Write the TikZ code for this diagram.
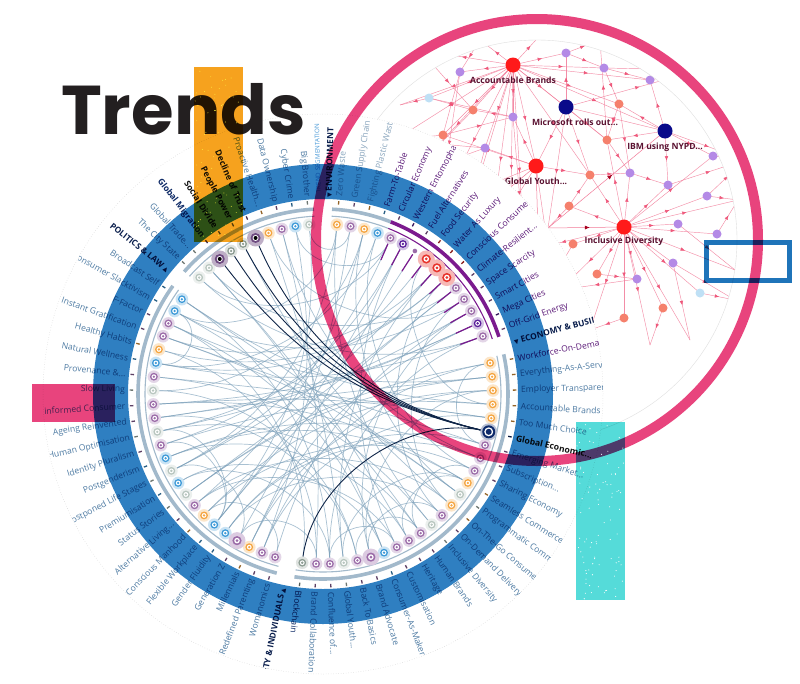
\documentclass[tikz,border=0pt]{standalone}
\usepackage{fontspec}
\setmainfont{Open Sans}
\newfontfamily\symf{DejaVu Sans}
\newfontfamily\titlef{Poppins}
\usetikzlibrary{arrows.meta,decorations.markings}
\definecolor{ringblue}{HTML}{2F7FC1}
\definecolor{pinkc}{HTML}{E8447D}
\definecolor{orangec}{HTML}{F6A21E}
\definecolor{cyanc}{HTML}{55DBD9}
\definecolor{rectblue}{HTML}{1F74B9}
\definecolor{labn}{HTML}{4E7BA3}
\definecolor{labg}{HTML}{8AA6BE}
\definecolor{labp}{HTML}{5B1A78}
\definecolor{labk}{HTML}{141414}
\definecolor{labv}{HTML}{0E2A66}
\definecolor{catc}{HTML}{0B1F4D}
\definecolor{segc}{HTML}{4A9AD8}
\definecolor{chordc}{HTML}{7CA0BA}
\definecolor{darkch}{HTML}{0F2548}
\definecolor{arcg}{HTML}{A2B9CB}
\definecolor{envp}{HTML}{7B1A8E}
\definecolor{dp}{HTML}{9B6BA8}
\definecolor{do}{HTML}{F5A540}
\definecolor{dl}{HTML}{3D9AD8}
\definecolor{dg}{HTML}{B8C6BF}
\definecolor{dr}{HTML}{E8342C}
\definecolor{dv}{HTML}{5A1F9A}
\definecolor{dN}{HTML}{0D2A6B}
\definecolor{dD}{HTML}{6E4A80}
\definecolor{dG}{HTML}{8C9C92}
\definecolor{netl}{HTML}{F27A98}
\definecolor{neta}{HTML}{EE4D72}
\definecolor{netd}{HTML}{A8001E}
\definecolor{netr}{HTML}{FF1A1A}
\definecolor{netn}{HTML}{0A0A8A}
\definecolor{netp}{HTML}{B48AE6}
\definecolor{nets}{HTML}{F5806C}
\definecolor{netb}{HTML}{BFE0F5}
\definecolor{netlab}{HTML}{5A1231}
\definecolor{titlec}{HTML}{231F20}
\newcommand\tdn{{\symf\fontsize{6}{6}\selectfont ▼}}
\newcommand\tup{{\symf\fontsize{6}{6}\selectfont ▲}}
\newcommand\el{.\kern0pt.\kern0pt.}
\tikzset{
  lab/.style={font=\fontsize{8.6}{9}\selectfont, inner sep=0pt},
  lbn/.style={lab, text=labn},
  lbg/.style={lab, text=labg},
  lbp/.style={lab, text=labp},
  lbd/.style={lab, text=labv},
  lbk/.style={lab, text=labk, font=\fontsize{8.6}{9}\selectfont\bfseries},
  lbv/.style={lab, text=labv, font=\fontsize{8.6}{9}\selectfont\bfseries},
  lbc/.style={lab, text=catc, font=\fontsize{8.4}{9}\selectfont\bfseries},
  chord/.style={draw=chordc, line width=0.7pt, opacity=0.65},
  darkchord/.style={draw=darkch, line width=0.9pt},
  arcthick/.style={draw=arcg, line width=3.6pt},
  arcthin/.style={draw=arcg, line width=1.1pt},
  netedge/.style={draw=netl, line width=0.45pt, opacity=0.85, postaction={decorate},
    decoration={markings, mark=at position 0.55 with {\arrow[neta]{Latex[length=4.5pt,width=3.6pt]}}}},
  netdark/.style={draw=netl, line width=0.5pt, postaction={decorate},
    decoration={markings, mark=at position 0.55 with {\arrow[netd]{Latex[length=5pt,width=4pt]}}}},
  bignet/.style={circle, inner sep=0pt, minimum size=15pt},
  smallnet/.style={circle, inner sep=0pt, minimum size=9pt},
  netlabel/.style={font=\fontsize{8.6}{9}\selectfont\bfseries, text=netlab, inner sep=0pt}
}
\begin{document}
\begin{tikzpicture}[x=1pt,y=-1pt]
\useasboundingbox (0,0) rectangle (800,683);
\fill[white] (0,0) rectangle (800,683);

% ---------------- network ----------------
\begin{scope}
\clip (537,240) circle (200);
\coordinate (AB) at (513,65);
\coordinate (MS) at (566,107);
\coordinate (IBM) at (665,131);
\coordinate (GY) at (536,166);
\coordinate (ID) at (624,227);
\foreach \n/\x/\y in {P1/566/53,P2/604/68,P3/650/80,P4/460/72,P5/513/117,P6/485/148,P7/630/173,P8/713/156,P9/668/185,P10/707/196,P11/678/224,P12/717/234,P13/673/263,P14/637/279,L1/429/98,L2/700/293,S1/473/110,S2/443/135,S3/619/104,S4/607/140,S5/590/175,S6/569/206,S7/573/244,S8/597/274,S9/663/308,S10/624/318,o1/395/140,o2/410/175,o3/440/205,o4/465/225,o5/490/240,o6/510/255,o7/525/260,o8/400/105,o9/420/50,o10/545/30,o11/480/40,o12/548/228,o13/560/290,o14/590/330,o15/650/345,o16/735/270,o17/738/200,o18/700/70,o19/745/160,o20/600/40,o21/735/300,o22/560/330,o23/540/300,o24/690/340}
  {\coordinate (\n) at (\x,\y);}
\foreach \u/\v in {AB/P4,AB/S1,AB/S2,AB/L1,AB/P5,AB/P6,AB/GY,AB/P1,AB/P2,AB/P3,AB/IBM,AB/S3,AB/MS,AB/o1,AB/o2,AB/o3,AB/o4,AB/o5,AB/o6,AB/o7,AB/o8,AB/o9,AB/o10,AB/o11,MS/P1,MS/GY,MS/S4,MS/o18,IBM/P3,IBM/S3,IBM/P8,IBM/MS,IBM/o19,GY/P6,GY/S2,GY/S5,GY/o5,GY/o22,ID/P7,ID/P9,ID/P10,ID/P11,ID/P12,ID/P13,ID/P14,ID/L2,ID/S9,ID/S10,ID/S8,ID/S7,ID/S6,ID/S5,ID/S4,ID/o13,ID/o14,ID/o15,ID/o16,ID/o17,ID/P8,ID/o24,ID/o6,P4/S2,S1/L1,P2/P3,P3/o18,S3/P7,P11/o16,P13/o21,S4/o20,P5/S1,L1/o8,S2/o1,P6/o2,P9/o19,P10/o17,o1/P6,S2/P5,L1/P5,P4/o3,S1/o2,P5/o7,P6/o4,MS/o12,MS/S5,GY/P5,GY/o3,P1/P2,P1/o20,P2/S3,P2/o18,S3/S4,S4/P7,S5/P7,P7/P9,S6/o12,S7/o23,S8/P14,S9/o15,S10/o14,P14/o13,P12/o17,P10/o19,P8/o19,L2/o21,P13/o24,IBM/S4,IBM/P9,AB/S4,AB/S5,S6/S5,o9/S1,o11/P4}
  {\draw[netedge] (\u) -- (\v);}
\foreach \u/\v in {o12/IBM,o4/GY,o23/GY,o12/ID}
  {\draw[netdark] (\u) -- (\v);}
\foreach \n in {P1,P2,P3,P4,P5,P6,P7,P8,P9,P10,P11,P12,P13,P14}
  {\node[smallnet, fill=netp] (n\n) at (\n) {};}
\foreach \n in {S1,S2,S3,S4,S5,S6,S7,S8,S9,S10}
  {\node[smallnet, fill=nets] (n\n) at (\n) {};}
\foreach \n in {L1,L2}
  {\node[smallnet, fill=netb] (n\n) at (\n) {};}
\node[bignet, fill=netr] (nAB) at (AB) {};
\node[bignet, fill=netr] (nGY) at (GY) {};
\node[bignet, fill=netr] (nID) at (ID) {};
\node[bignet, fill=netn] (nMS) at (MS) {};
\node[bignet, fill=netn] (nIBM) at (IBM) {};
\node[netlabel] (tAB) at (513,80) {Accountable Brands};
\node[netlabel] (tMS) at (575,122) {Microsoft rolls out\el};
\node[netlabel] (tIBM) at (665,147) {IBM using NYPD\el};
\node[netlabel] (tGY) at (536,181) {Global Youth\el};
\node[netlabel] (tID) at (624,241) {Inclusive Diversity};
\end{scope}
\draw[gray!25, line width=0.4pt] (537,240) circle (200);

% ---------------- chord diagram ----------------
\fill[white] (323,394) circle (280);
\begin{scope}[shift={(323,394)}, yscale=-1]
\draw[gray!35, line width=0.5pt, dotted] (0,0) circle (280);

% labels
\begin{scope}
\clip (0,0) circle (280);
\foreach \i/\tx/\s in {1/Zero Waste/lbg,2/Green Supply Chain/lbg,3/Fighting Plastic Waste/lbg,4/Farm-To-Table/lbp,5/Circular Economy/lbp,6/Western Entomophagy/lbp,7/Fuel Alternatives/lbp,8/Food Security/lbp,9/Water As Luxury/lbp,10/Conscious Consumer/lbp,11/Climate-Resilient\el/lbp,12/Space Scarcity/lbp,13/Smart Cities/lbp,14/Mega Cities/lbp,15/Off-Grid Energy/lbp,16/\tdn\ ECONOMY \& BUSINESS/lbc,17/Workforce-On-Demand/lbp,18/Everything-As-A-Service/lbn,19/Employer Transparency/lbn,20/Accountable Brands/lbn,21/Too Much Choice/lbn,22/Global Economic\el/lbk,23/Emerging Market\el/lbn,24/Subscription\el/lbn,25/Sharing Economy/lbn,26/Seamless Commerce/lbn,27/Programmatic Commerce/lbn,28/On-The-Go Consumer/lbn,29/On-Demand Delivery/lbn,30/Inclusive Diversity/lbn,31/Human Brands/lbn,32/Heritage/lbn,33/Customisation/lbn,34/Consumer-As-Maker/lbn,35/Brand Advocate/lbn,36/Back To Basics/lbn,37/Global Youth\el/lbn,38/Confluence of\el/lbn,39/Brand Collaboration/lbn,40/Blockchain/lbd}
{
  \pgfmathsetmacro\ang{90-\i*4.675325}
  \node[\s, anchor=west, rotate=\ang] (lab\i) at (\ang:198) {\tx};
}
\foreach \i/\tx/\s in {41/SOCIETY \& INDIVIDUALS \tup/lbc,42/Womanomics/lbn,43/Redefined Parenting/lbn,44/Millennials/lbn,45/Generation Z/lbn,46/Gender Fluidity/lbn,47/Flexible Workplace/lbn,48/Conscious Manhood/lbn,49/Alternative Living\el/lbn,50/Status Stories/lbn,51/Premiumisation/lbn,52/Postponed Life Stages/lbn,53/Postgenderism/lbn,54/Identity Pluralism/lbn,55/Human Optimisation/lbn,56/Ageing Reinvented/lbn,57/Misinformed Consumer/lbn,58/Slow Living/lbn,59/Provenance \&\el/lbn,60/Natural Wellness/lbn,61/Healthy Habits/lbn,62/Instant Gratification/lbn,63/F-Factor/lbn,64/Consumer Slacktivism/lbn,65/Broadcast Self/lbn,66/POLITICS \& LAW \tup/lbc,67/The City State/lbn,68/Global Trade\el/lbn,69/Global Migration/lbv,70/Social Divide/lbk,71/People Power/lbk,72/Decline of Trust/lbk,73/Proactive Health\el/lbn,74/Data Ownership/lbn,75/Cyber Crime/lbn,76/Big Brother/lbn}
{
  \pgfmathsetmacro\ang{90-\i*4.675325}
  \pgfmathsetmacro\rot{\ang+180}
  \node[\s, anchor=east, rotate=\rot] (lab\i) at (\ang:198) {\tx};
}
\node[lbc, anchor=west, rotate=88.3] (env) at (88.3:196) {\tdn\ ENVIRONMENT};
\node[lab, text=segc, font=\fontsize{6.3}{7}\selectfont, anchor=west, rotate=91.3] (seg) at (91.3:201) {TREND SEGMENTATION};
\end{scope}
\begin{scope}[blend mode=multiply]
\fill[ringblue, even odd rule] (0,0) circle (230) (0,0) circle (195);
\end{scope}

% segment arcs
\draw[arcthick] (87.195:185) arc[start angle=87.195, end angle=68.5, radius=185];
\draw[arcthin] (87.195:178) arc[start angle=87.195, end angle=68.5, radius=178];
\draw[envp, line width=3.6pt] (68.5:185) arc[start angle=68.5, end angle=18.0, radius=185];
\draw[envp, line width=1.1pt] (68.5:178) arc[start angle=68.5, end angle=18.0, radius=178];
\foreach \s/\e in {12.39/-98.88,-104.49/-215.77,-221.38/-267.19}
{
  \draw[arcthick] (\s:185) arc[start angle=\s, end angle=\e, radius=185];
  \draw[arcthin] (\s:178) arc[start angle=\s, end angle=\e, radius=178];
}

% light chords
\foreach \p/\q in {1/30,1/52,2/45,3/58,3/27,4/25,4/60,5/52,6/33,6/47,7/44,8/20,8/55,9/37,9/62,10/61,10/29,11/47,11/50,12/28,12/64,13/55,13/35,14/44,14/57,15/60,15/38,17/50,17/43,18/63,18/56,19/35,19/48,20/54,20/65,21/43,21/59,23/62,23/46,24/74,24/53,25/48,26/57,26/32,27/65,28/71,28/49,29/46,30/59,31/64,31/36,32/53,33/49,34/68,34/51,36/56,37/73,37/26,38/51,39/61,39/45,40/63,42/13,42/48,43/75,44/19,46/24,47/54,49/3,50/18,52/9,53/26,54/6,55/31,56/14,57/21,58/36,60/10,62/27,63/34,64/1,65/38,67/15,68/32,73/12,74/39,75/5,76/47,76/2,67/5,68/11,45/52,47/55,29/35,25/31,60/64,17/23,33/38}
{
  \pgfmathsetmacro\ta{90-\p*4.675325}
  \pgfmathsetmacro\tb{90-\q*4.675325}
  \pgfmathsetmacro\dd{abs(\ta-\tb)}
  \pgfmathsetmacro\dd{\dd>180 ? 360-\dd : \dd}
  \pgfmathsetmacro\rc{150-0.75*\dd}
  \draw[chord] (\ta:165) .. controls (\ta:\rc) and (\tb:\rc) .. (\tb:165);
}
% dark chords
\foreach \q in {69,70,71,72,40}
{
  \pgfmathsetmacro\ta{90-22*4.675325}
  \pgfmathsetmacro\tb{90-\q*4.675325}
  \pgfmathsetmacro\dd{abs(\ta-\tb)}
  \pgfmathsetmacro\dd{\dd>180 ? 360-\dd : \dd}
  \pgfmathsetmacro\rc{150-0.75*\dd}
  \draw[darkchord] (\ta:165) .. controls (\ta:\rc) and (\tb:\rc) .. (\tb:165);
}
% purple spokes
\foreach \i in {5,6,7,8,9,10,11,12,13,14,15}
{
  \pgfmathsetmacro\ang{90-\i*4.675325}
  \draw[envp, line width=1.2pt] (\ang:166) -- (\ang:146);
}

% ticks and dots
\foreach \i/\c in {1/do,2/dp,3/do,4/dl,5/dp,6/dv,7/dp,8/dr,9/dr,10/dr,11/dp,12/dp,13/dp,14/dv,15/dp,17/do,18/do,19/do,20/do,21/do,22/dN,23/dp,24/dp,25/dp,26/do,27/dg,28/do,29/dp,30/dg,31/dp,32/dp,33/dp,34/dl,35/dp,36/dp,37/dg,38/dp,39/dp,40/dG,42/dp,43/dp,44/do,45/dp,46/dl,47/dl,48/do,49/dp,50/dg,51/dl,52/dg,53/dl,54/dp,55/dg,56/dp,57/dp,58/dg,59/dp,60/dl,61/do,62/dp,63/dp,64/dl,65/dl,67/dg,68/dg,69/dD,70/dG,71/dG,72/dD,73/do,74/dp,75/dl,76/dg}
{
  \pgfmathsetmacro\ang{90-\i*4.675325}
  \draw[\c!60!black, line width=1.3pt] (\ang:190) -- (\ang:193.5);
}
\foreach \i/\c in {1/do,2/dp,3/do,4/dl,5/dp,6/dv,11/dp,12/dp,13/dp,14/dv,15/dp,17/do,18/do,19/do,20/do,21/do,23/dp,24/dp,25/dp,26/do,27/dg,28/do,29/dp,30/dg,31/dp,32/dp,33/dp,34/dl,36/dp,37/dg,38/dp,39/dp,40/dG,42/dp,43/dp,44/do,46/dl,47/dl,48/do,49/dp,50/dg,51/dl,52/dg,53/dl,54/dp,55/dg,56/dp,57/dp,58/dg,59/dp,60/dl,61/do,62/dp,63/dp,64/dl,65/dl,67/dg,68/dg,70/dG,71/dG,73/do,74/dp,75/dl,76/dg}
{
  \pgfmathsetmacro\ang{90-\i*4.675325}
  \fill[\c!28] (\ang:170) circle (6.3);
  \fill[\c] (\ang:170) circle (3.9);
  \fill[white] (\ang:170) circle (2.4);
  \fill[\c] (\ang:170) circle (1.3);
}
% tiny dot
\fill[dp] ({90-7*4.675325}:170) circle (2.3);
% big dots
\foreach \i/\c in {8/dr,9/dr,10/dr,35/dp,45/dp}
{
  \pgfmathsetmacro\ang{90-\i*4.675325}
  \fill[\c!35] (\ang:170) circle (8.5);
  \fill[\c] (\ang:170) circle (4.6);
  \fill[white] (\ang:170) circle (2.8);
  \fill[\c] (\ang:170) circle (1.5);
}
\foreach \i in {69,72}
{
  \pgfmathsetmacro\ang{90-\i*4.675325}
  \fill[dD!45] (\ang:170) circle (8.5);
  \fill[dD] (\ang:170) circle (5);
  \fill[white] (\ang:170) circle (3);
  \fill[black] (\ang:170) circle (2);
}
\pgfmathsetmacro\ang{90-22*4.675325}
\fill[dN!30] (\ang:170) circle (8.5);
\fill[dN] (\ang:170) circle (6.5);
\fill[white] (\ang:170) circle (4.5);
\fill[dN] (\ang:170) circle (3);
\end{scope}

% ---------------- title ----------------
\node[anchor=base west, inner sep=0pt, text=titlec, font=\titlef\bfseries\fontsize{69}{69}\selectfont] (title) at (61,134) {Trends};

% ---------------- overlays ----------------
\begin{scope}[blend mode=multiply]
\fill[orangec] (194,67) rectangle (243,242);
\fill[pinkc] (32,384) rectangle (115,422);
\fill[cyanc] (576,422) rectangle (625,600);
\draw[pinkc, line width=10pt] (537,240) circle (221);
\draw[rectblue, line width=5pt] (706.5,242.5) rectangle (789.5,280.5);
\end{scope}
\pgfmathsetseed{7}
\foreach \k in {1,...,70}
{
  \pgfmathsetmacro\xx{195+47*rnd}
  \pgfmathsetmacro\yy{68+173*rnd}
  \fill[yellow!75!white] (\xx,\yy) circle (0.45);
}
\foreach \k in {1,...,90}
{
  \pgfmathsetmacro\xx{577+47*rnd}
  \pgfmathsetmacro\yy{423+176*rnd}
  \fill[white] (\xx,\yy) circle (0.55);
}
\end{tikzpicture}
\end{document}
